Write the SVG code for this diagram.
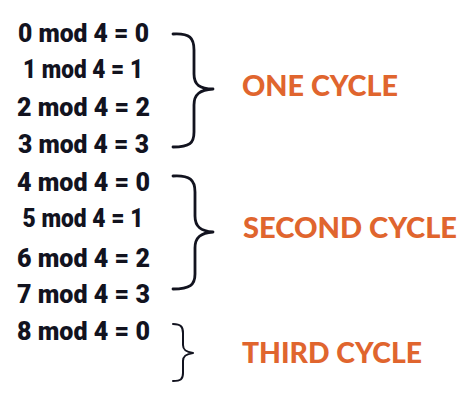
<svg xmlns="http://www.w3.org/2000/svg" width="474" height="402" viewBox="0 0 474 402">
<style>
.eq{font-family:"Roboto","Liberation Sans",sans-serif;font-weight:900;font-size:25px;fill:#12131f;text-anchor:middle}
.lbl{font-family:"Lato","Liberation Sans",sans-serif;font-weight:900;font-size:28px;fill:#e0652e}
.brace{fill:none;stroke:#12131f;stroke-width:2.8;stroke-linecap:round;stroke-linejoin:round}
</style>
<rect width="474" height="402" fill="#ffffff"/>
<g id="equations">
<text class="eq" x="83.5" y="42" textLength="131" lengthAdjust="spacingAndGlyphs">0 mod 4 = 0</text>
<text class="eq" x="83" y="78" textLength="120" lengthAdjust="spacingAndGlyphs">1 mod 4 = 1</text>
<text class="eq" x="83.5" y="116" textLength="133" lengthAdjust="spacingAndGlyphs">2 mod 4 = 2</text>
<text class="eq" x="83.5" y="153" textLength="131" lengthAdjust="spacingAndGlyphs">3 mod 4 = 3</text>
<text class="eq" x="83.5" y="191" textLength="133" lengthAdjust="spacingAndGlyphs">4 mod 4 = 0</text>
<text class="eq" x="83" y="227" textLength="121" lengthAdjust="spacingAndGlyphs">5 mod 4 = 1</text>
<text class="eq" x="83.5" y="267" textLength="133" lengthAdjust="spacingAndGlyphs">6 mod 4 = 2</text>
<text class="eq" x="83.5" y="303" textLength="133" lengthAdjust="spacingAndGlyphs">7 mod 4 = 3</text>
<text class="eq" x="83.5" y="340" textLength="133" lengthAdjust="spacingAndGlyphs">8 mod 4 = 0</text>
</g>
<g id="braces">
<path class="brace" d="M173,34 C190,33 194,38 194,50 L194,74 C194,85 200,89 213,89 C200,90 194,94 194,105 L194,132 C194,143 190,147 173,147"/>
<path class="brace" d="M173,176 C190,175 195,180 195,192 L195,216 C195,227 201,231 213,232 C201,233 195,237 195,248 L195,274 C195,285 190,289 173,289"/>
<path class="brace" style="stroke-width:2" d="M173,324 C181,324 183,327 183,333 L183,345 C183,350 186,352 193,353 C186,354 183,356 183,361 L183,373 C183,379 181,381 173,381"/>
</g>
<g id="one-cycle"><text class="lbl" x="242" y="96" textLength="156" lengthAdjust="spacingAndGlyphs">ONE CYCLE</text></g>
<g id="second-cycle"><text class="lbl" x="243" y="238" textLength="214" lengthAdjust="spacingAndGlyphs">SECOND CYCLE</text></g>
<g id="third-cycle"><text class="lbl" x="242" y="363" textLength="180" lengthAdjust="spacingAndGlyphs">THIRD CYCLE</text></g>
</svg>
